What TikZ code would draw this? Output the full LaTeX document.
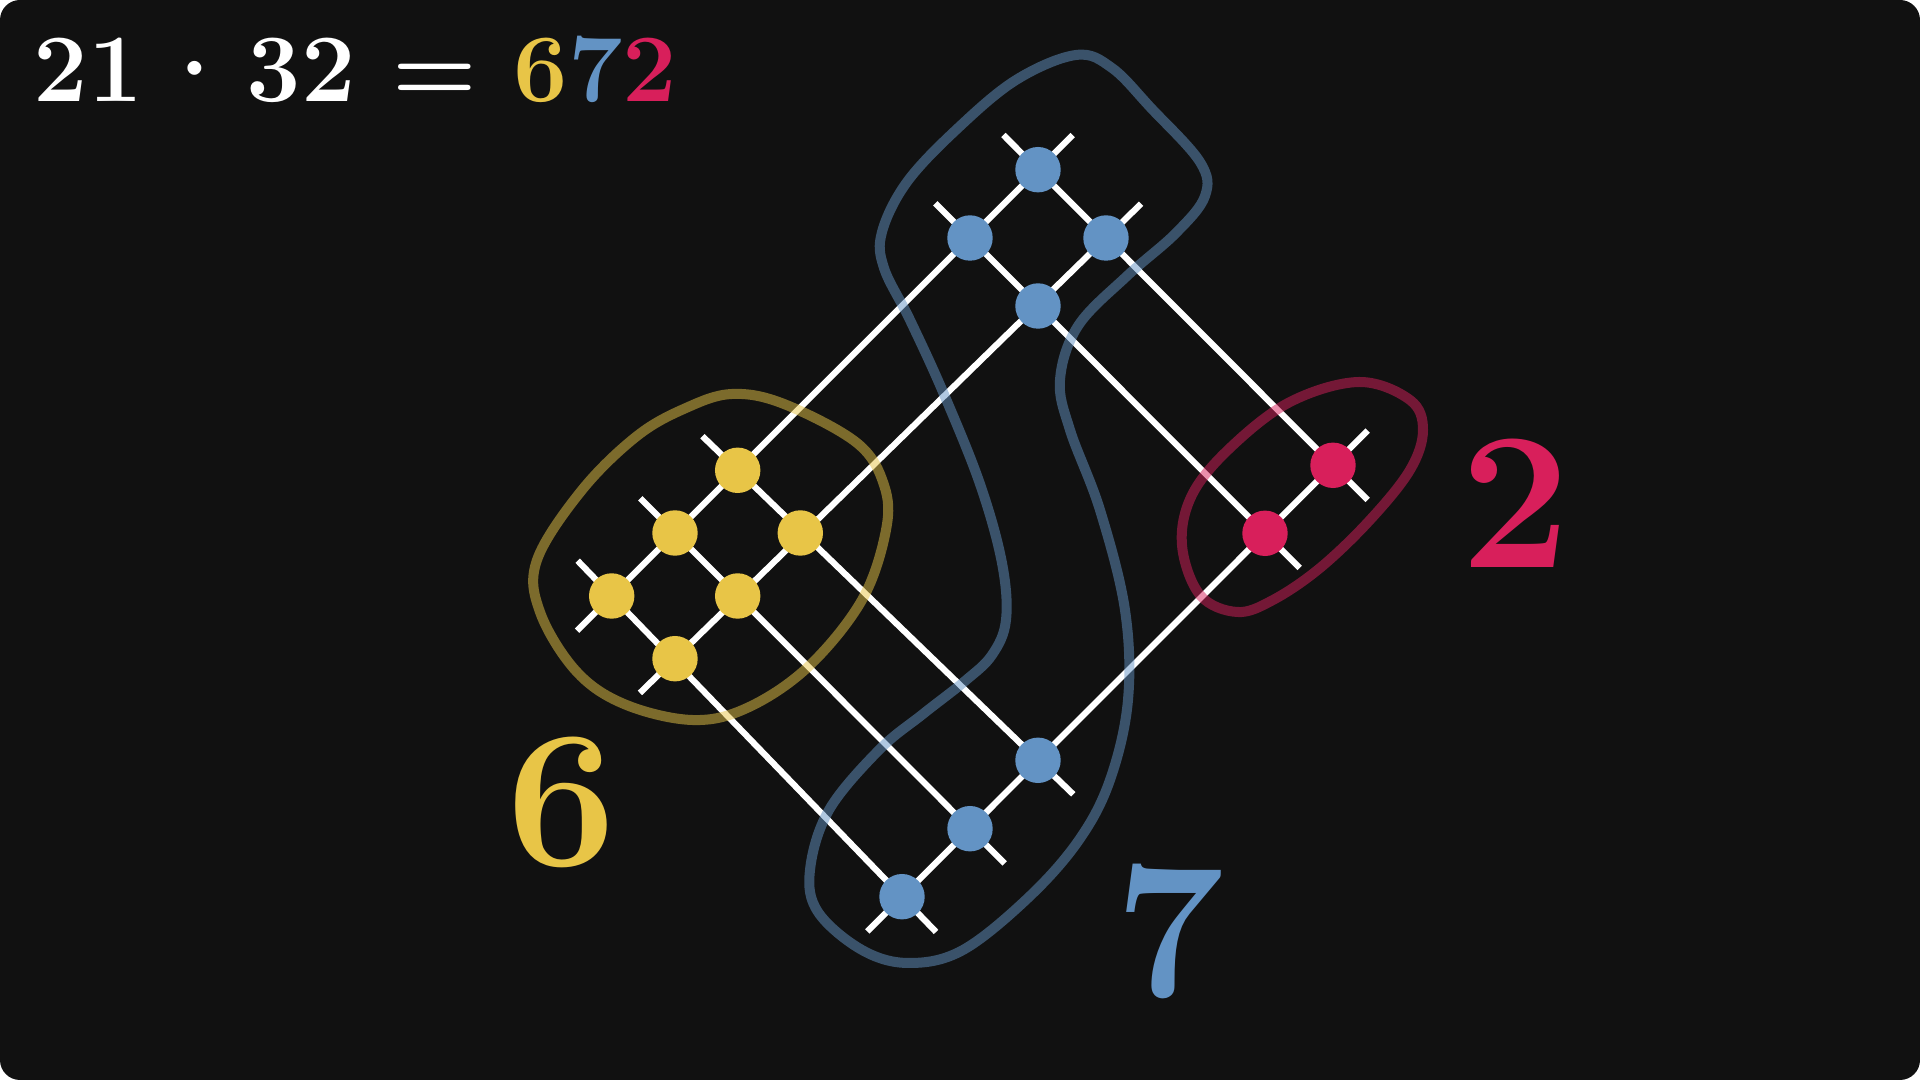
\documentclass[tikz,border=0pt]{standalone}
\usepackage{fontspec}
\usetikzlibrary{calc}
\definecolor{bg}{HTML}{111111}
\definecolor{yel}{HTML}{E8C547}
\definecolor{blu}{HTML}{6393C4}
\definecolor{rd}{HTML}{D81F5B}
\tikzset{
wire/.style={draw=white, line width=0.062cm}, % the white lines of both factors
dot/.style={circle, inner sep=0pt, minimum size=0.454cm}, % a crossing of two lines
blob/.style={line width=0.1cm, draw opacity=0.5}, % loop round one group of crossings
digit/.style={anchor=base, inner sep=0pt, font=\fontsize{55.7}{60}\selectfont\bfseries}, % big digits of the result
}

\begin{document}
\begin{tikzpicture}[x=0.01cm, y=-0.01cm]
\useasboundingbox (0,0) rectangle (1920,1080);
\fill[white] (0,0) rectangle (1920,1080);
\fill[bg, rounded corners=0.2cm] (0,0) rectangle (1920,1080);

% crossings: yellow, blue (top), red, blue (bottom)
\coordinate (y1) at (737.7,470.3);
\coordinate (y2) at (675,533);
\coordinate (y3) at (800.3,533);
\coordinate (y4) at (611.7,596);
\coordinate (y5) at (737.7,596);
\coordinate (y6) at (675,658.7);
\coordinate (b1) at (1038,169.7);
\coordinate (b2) at (970,238);
\coordinate (b3) at (1106,238);
\coordinate (b4) at (1038,306);
\coordinate (r1) at (1333,465.3);
\coordinate (r2) at (1265,533.3);
\coordinate (c1) at (1038,760.3);
\coordinate (c2) at (970,828.7);
\coordinate (c3) at (902,896.7);

% lines of 21
\draw[wire] ($(y4)!-0.49cm!(b1)$) -- ($(b1)!-0.49cm!(y4)$);
\draw[wire] ($(y6)!-0.49cm!(b3)$) -- ($(b3)!-0.49cm!(y6)$);
\draw[wire] ($(c3)!-0.49cm!(r1)$) -- ($(r1)!-0.49cm!(c3)$);
% lines of 32
\draw[wire] ($(b1)!-0.49cm!(r1)$) -- ($(r1)!-0.49cm!(b1)$);
\draw[wire] ($(b2)!-0.49cm!(r2)$) -- ($(r2)!-0.49cm!(b2)$);
\draw[wire] ($(y1)!-0.49cm!(c1)$) -- ($(c1)!-0.49cm!(y1)$);
\draw[wire] ($(y2)!-0.49cm!(c2)$) -- ($(c2)!-0.49cm!(y2)$);
\draw[wire] ($(y4)!-0.49cm!(c3)$) -- ($(c3)!-0.49cm!(y4)$);

\node[dot, fill=yel] (dy1) at (y1) {};
\node[dot, fill=yel] (dy2) at (y2) {};
\node[dot, fill=yel] (dy3) at (y3) {};
\node[dot, fill=yel] (dy4) at (y4) {};
\node[dot, fill=yel] (dy5) at (y5) {};
\node[dot, fill=yel] (dy6) at (y6) {};
\node[dot, fill=blu] (db1) at (b1) {};
\node[dot, fill=blu] (db2) at (b2) {};
\node[dot, fill=blu] (db3) at (b3) {};
\node[dot, fill=blu] (db4) at (b4) {};
\node[dot, fill=rd] (dr1) at (r1) {};
\node[dot, fill=rd] (dr2) at (r2) {};
\node[dot, fill=blu] (dc1) at (c1) {};
\node[dot, fill=blu] (dc2) at (c2) {};
\node[dot, fill=blu] (dc3) at (c3) {};

% loops
\draw[blob, yel] plot[smooth cycle, tension=0.6] coordinates {(732,394) (784,404) (857,443) (884,485) (886,530) (862,600) (808,667) (747,708) (692,720) (624,704) (576,671) (540,612) (537,560) (582,490) (637,436) (686,408)};
\draw[blob, blu] plot[smooth cycle, tension=0.6] coordinates {(1076,55) (1016,80) (957,129) (907,182) (882,232) (884,268) (910,320) (943,392) (980,484) (1002,563) (1006,620) (992,655) (965,681) (923,714) (879,750) (829,810) (810,870) (818,912) (862,950) (909,963) (963,950) (1029,897) (1079,840) (1110,780) (1128,700) (1125,610) (1100,510) (1070,430) (1060,380) (1078,326) (1127,276) (1176,233) (1205,196) (1200,162) (1151,108) (1112,68)};
\draw[blob, rd] plot[smooth cycle, tension=0.6] coordinates {(1359,382) (1410,400) (1423,430) (1410,470) (1370,520) (1320,568) (1273,600) (1237,612) (1200,595) (1182,545) (1192,495) (1230,448) (1290,402)};

% texts
\node[anchor=base west, inner sep=0pt, text=white, font=\fontsize{27.5}{33}\selectfont\bfseries] (sum) at (33,102) {21\hspace{0.1em}·\hspace{0.1em}32\hspace{0.38em}=\hspace{0.38em}{\color{yel}6}{\color{blu}7}{\color{rd}2}};
\node[digit, text=rd] (two) at (1516,568) {2};
\node[digit, text=yel] (six) at (562,866) {6};
\node[digit, text=blu] (seven) at (1170,997) {7};
\end{tikzpicture}
\end{document}
